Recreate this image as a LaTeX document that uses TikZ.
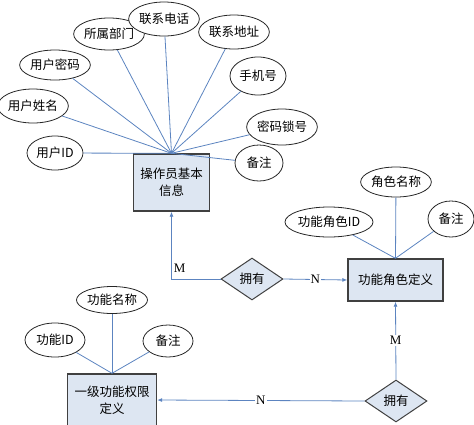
\documentclass[tikz,border=0pt]{standalone}
\usepackage{fontspec}
\setmainfont{Liberation Serif}
\newfontfamily\cjk{Noto Sans CJK SC}
\usetikzlibrary{shapes.geometric,arrows.meta}
\definecolor{linkblue}{RGB}{92,132,192}
\definecolor{boxfill}{RGB}{221,230,242}
\tikzset{
  attr/.style={ellipse,draw=black!85,line width=0.8pt,fill=white,inner sep=0pt},
  ent/.style={rectangle,draw=black!75,line width=1.4pt,fill=boxfill,align=center,inner sep=0pt},
  rel/.style={diamond,draw=black!75,line width=1pt,fill=boxfill,inner sep=0pt,minimum width=62pt,minimum height=42pt},
  link/.style={draw=linkblue,line width=0.8pt},
  arr/.style={link,-{Latex[length=5pt,width=4pt]}},
  card/.style={font=\fontsize{13}{13}\selectfont,fill=white,inner sep=1pt}
}
\begin{document}
\begin{tikzpicture}[x=1pt,y=-1pt,font=\cjk\fontsize{12.5}{17}\selectfont]
      \useasboundingbox (0,0) rectangle (474,424);
      \node[ent,minimum width=76pt,minimum height=57pt] (op) at (171.5,182.5) {操作员基本\\信息};
      \node[ent,minimum width=95pt,minimum height=42pt] (role) at (395.5,280) {功能角色定义};
      \node[ent,minimum width=89pt,minimum height=52pt] (func) at (112,400) {一级功能权限\\定义};
      \node[rel] (h1) at (252,279) {拥有};
      \node[rel] (h2) at (396,401) {拥有};
      \node[attr,minimum width=56pt,minimum height=34pt] (u1) at (55,153) {用户ID};
      \node[attr,minimum width=66pt,minimum height=34pt] (u2) at (33,106) {用户姓名};
      \node[attr,minimum width=68pt,minimum height=30pt] (u3) at (55,65) {用户密码};
      \node[attr,minimum width=68pt,minimum height=32pt] (u4) at (109,34) {所属部门};
      \node[attr,minimum width=68pt,minimum height=34pt] (u5) at (164,19) {联系电话};
      \node[attr,minimum width=68pt,minimum height=34pt] (u6) at (234,32) {联系地址};
      \node[attr,minimum width=56pt,minimum height=38pt] (u7) at (258,76) {手机号};
      \node[attr,minimum width=70pt,minimum height=36pt] (u8) at (282,127) {密码锁号};
      \node[attr,minimum width=48pt,minimum height=36pt] (u9) at (259,163) {备注};
      \node[attr,minimum width=82pt,minimum height=30pt] (r1) at (329,222) {功能角色ID};
      \node[attr,minimum width=68pt,minimum height=30pt] (r2) at (396,182) {角色名称};
      \node[attr,minimum width=46pt,minimum height=36pt] (r3) at (451,219) {备注};
      \node[attr,minimum width=60pt,minimum height=34pt] (f1) at (55,340) {功能ID};
      \node[attr,minimum width=71pt,minimum height=27pt] (f2) at (112,300) {功能名称};
      \node[attr,minimum width=50pt,minimum height=32pt] (f3) at (168,341) {备注};
      \draw[link] (u1) -- (op.north);
      \draw[link] (u2) -- (op.north);
      \draw[link] (u3) -- (op.north);
      \draw[link] (u4) -- (op.north);
      \draw[link] (u5) -- (op.north);
      \draw[link] (u6) -- (op.north);
      \draw[link] (u7) -- (op.north);
      \draw[link] (u8) -- (op.north);
      \draw[link] (u9) -- (op.north);
      \draw[link] (r1) -- (role.north);
      \draw[link] (r2) -- (role.north);
      \draw[link] (r3) -- (role.north);
      \draw[link] (f1) -- (func.north);
      \draw[link] (f2) -- (func.north);
      \draw[link] (f3) -- (func.north);
      \draw[arr] (h1.west) -| node[pos=0.58,right=1pt,card,fill=none] {M} (op.south);
      \draw[arr] (h1.east) -- node[card] {N} (role.west);
      \draw[arr] (h2.north) -- node[card] {M} (role.south);
      \draw[arr] (h2.west) -- node[card] {N} (func.east);
\end{tikzpicture}
\end{document}
